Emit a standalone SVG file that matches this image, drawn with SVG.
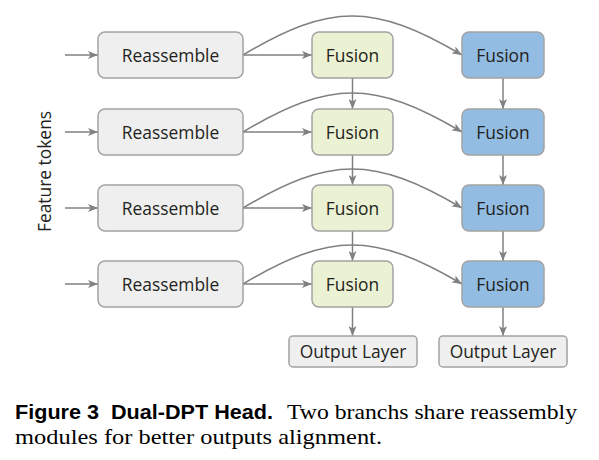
<svg xmlns="http://www.w3.org/2000/svg" width="599" height="460" viewBox="0 0 599 460">
<defs>
<marker id="ah" viewBox="0 0 10 8" refX="10" refY="4" markerWidth="10" markerHeight="8" markerUnits="userSpaceOnUse" orient="auto">
<path d="M0,0 L10,4 L0,8 L2.5,4 Z" fill="#808080"/>
</marker>
<style>
.re{fill:#efefef;stroke:#a3a3a3;stroke-width:1.5}
.fg{fill:#ebf2d3;stroke:#a3a3a3;stroke-width:1.5}
.fb{fill:#92bce2;stroke:#a3a3a3;stroke-width:1.5}
.ol{fill:#efefef;stroke:#a3a3a3;stroke-width:1.5}
.t{font-family:"Open Sans","Noto Sans",sans-serif;font-size:17.4px;fill:#231f20;text-anchor:middle}
.c{fill:none;stroke:#808080;stroke-width:1.5;marker-end:url(#ah)}
.cap1{font-family:"Liberation Sans",Arial,sans-serif;font-weight:bold;font-size:21px;fill:#000}
.cap2{font-family:"Liberation Serif","Times New Roman",serif;font-size:21px;fill:#000}
</style>
</defs>
<rect width="599" height="460" fill="#fff"/>
<g id="connectors">
<path class="c" d="M65,55 L98,55"/>
<path class="c" d="M65,132 L98,132"/>
<path class="c" d="M65,208 L98,208"/>
<path class="c" d="M65,284 L98,284"/>
<path class="c" d="M243,55 L312,55"/>
<path class="c" d="M243,132 L312,132"/>
<path class="c" d="M243,208 L312,208"/>
<path class="c" d="M243,284 L312,284"/>
<path class="c" d="M243,55 C330,3 374,3 462,55"/>
<path class="c" d="M243,132 C330,80 374,80 462,132"/>
<path class="c" d="M243,208 C330,156 374,156 462,208"/>
<path class="c" d="M243,284 C330,232 374,232 462,284"/>
<path class="c" d="M352.5,78 L352.5,109"/>
<path class="c" d="M352.5,155 L352.5,185"/>
<path class="c" d="M352.5,231 L352.5,261"/>
<path class="c" d="M352.5,307 L352.5,336"/>
<path class="c" d="M503,78 L503,109"/>
<path class="c" d="M503,155 L503,185"/>
<path class="c" d="M503,231 L503,261"/>
<path class="c" d="M503,307 L503,336"/>
</g>
<g id="reassemble1"><rect class="re" x="98" y="32" width="145" height="46" rx="7"/><text class="t" x="170.5" y="61.5">Reassemble</text></g>
<g id="reassemble2"><rect class="re" x="98" y="109" width="145" height="46" rx="7"/><text class="t" x="170.5" y="138.5">Reassemble</text></g>
<g id="reassemble3"><rect class="re" x="98" y="185" width="145" height="46" rx="7"/><text class="t" x="170.5" y="214.5">Reassemble</text></g>
<g id="reassemble4"><rect class="re" x="98" y="261" width="145" height="46" rx="7"/><text class="t" x="170.5" y="290.5">Reassemble</text></g>
<g id="fusionA1"><rect class="fg" x="312" y="32" width="81" height="46" rx="7"/><text class="t" x="352.5" y="61.5">Fusion</text></g>
<g id="fusionA2"><rect class="fg" x="312" y="109" width="81" height="46" rx="7"/><text class="t" x="352.5" y="138.5">Fusion</text></g>
<g id="fusionA3"><rect class="fg" x="312" y="185" width="81" height="46" rx="7"/><text class="t" x="352.5" y="214.5">Fusion</text></g>
<g id="fusionA4"><rect class="fg" x="312" y="261" width="81" height="46" rx="7"/><text class="t" x="352.5" y="290.5">Fusion</text></g>
<g id="fusionB1"><rect class="fb" x="462" y="32" width="82" height="46" rx="7"/><text class="t" x="503" y="61.5">Fusion</text></g>
<g id="fusionB2"><rect class="fb" x="462" y="109" width="82" height="46" rx="7"/><text class="t" x="503" y="138.5">Fusion</text></g>
<g id="fusionB3"><rect class="fb" x="462" y="185" width="82" height="46" rx="7"/><text class="t" x="503" y="214.5">Fusion</text></g>
<g id="fusionB4"><rect class="fb" x="462" y="261" width="82" height="46" rx="7"/><text class="t" x="503" y="290.5">Fusion</text></g>
<g id="outputA"><rect class="ol" x="289" y="336" width="128" height="31" rx="4"/><text class="t" x="353" y="357.5">Output Layer</text></g>
<g id="outputB"><rect class="ol" x="439" y="336" width="128" height="31" rx="4"/><text class="t" x="503" y="357.5">Output Layer</text></g>
<g id="label"><text class="t" transform="translate(50.5,171.5) rotate(-90)" x="0" y="0">Feature tokens</text></g>
<g id="caption">
<text class="cap1" x="15" y="419" textLength="84" lengthAdjust="spacingAndGlyphs">Figure 3</text>
<text class="cap1" x="111" y="419" textLength="162" lengthAdjust="spacingAndGlyphs">Dual-DPT Head.</text>
<text class="cap2" x="287" y="419" textLength="290" lengthAdjust="spacingAndGlyphs">Two branchs share reassembly</text>
<text class="cap2" x="15" y="444" textLength="367" lengthAdjust="spacingAndGlyphs">modules for better outputs alignment.</text>
</g>
</svg>
